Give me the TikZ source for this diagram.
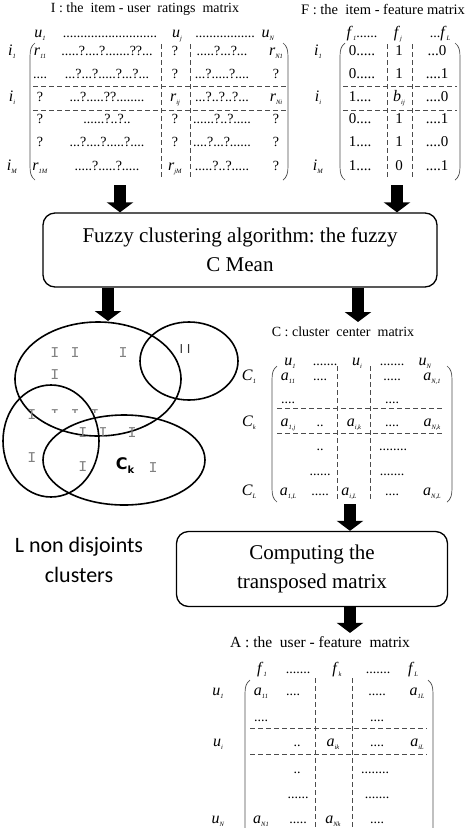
\documentclass[tikz,border=0pt]{standalone}
\usepackage{fontspec}
\setmainfont{Liberation Serif}
\newfontfamily\calfont{Carlito}
\newfontfamily\itemfont{Liberation Mono}
\newfontfamily\barfont{Liberation Sans}
\newfontfamily\cksans{DejaVu Sans}
\usetikzlibrary{positioning}
\usetikzlibrary{calc}
\usetikzlibrary{arrows.meta}
\usetikzlibrary{shapes.geometric}
\frenchspacing

% italic letter with a tiny index
\newcommand{\ms}[2]{{\fontsize{16}{16}\selectfont\textit{#1}}\raisebox{-0.4ex}{\fontsize{6.5}{6.5}\selectfont\textit{#2}}}
% matrix brackets
\newcommand{\matlp}[3]{\draw[paren] ({#1+5},#2) .. controls ({#1+1},{#2+3}) and (#1,{#2+7}) .. (#1,{#2+14}) -- (#1,{#3-14}) .. controls (#1,{#3-7}) and ({#1+1},{#3-3}) .. ({#1+5},#3);}
\newcommand{\matrp}[3]{\draw[paren] ({#1-5},#2) .. controls ({#1-1},{#2+3}) and (#1,{#2+7}) .. (#1,{#2+14}) -- (#1,{#3-14}) .. controls (#1,{#3-7}) and ({#1-1},{#3-3}) .. ({#1-5},#3);}

\begin{document}
\begin{tikzpicture}[x=1pt, y=-1pt,
        box/.style={draw, line width=1.3pt, rounded corners=12pt, align=center, font=\fontsize{21}{29}\selectfont},
        bigarrow/.style={line width=12pt, -{Triangle[width=26pt,length=10pt]}},
        cluster/.style={draw, ellipse, line width=1.6pt, inner sep=0pt},
        title/.style={font=\fontsize{14}{14}\selectfont},
        entry/.style={font=\fontsize{14}{14}\selectfont, inner sep=0pt, text height=10pt, text depth=3pt},
        digit/.style={entry, font=\fontsize{15}{15}\selectfont},
        sep/.style={dashed, dash pattern=on 5pt off 3pt, line width=0.6pt, black!70},
        paren/.style={line width=0.7pt, black!70},
        imark/.style={font=\itemfont\fontsize{15}{15}\selectfont, text=black!50, inner sep=0pt}
    ]
    \useasboundingbox (0,0) rectangle (474,828);

    % item-user ratings matrix
    \node[title] (ttli) at (145,9) {I : the\ \ item - user\ \ ratings\ \ matrix};
    \foreach \x/\y/\t [count=\n] in {
        40/34/{\ms{u}{1}}, 110/34/{...........................}, 177/34/{\ms{u}{j}}, 225/34/{.................}, 268/34/{\ms{u}{N}},
        12/52/{\ms{i}{1}}, 12/98/{\ms{i}{i}}, 12/167/{\ms{i}{M}},
        40/52/{\ms{r}{11}}, 107/52/{.....?....?.......??...}, 175/52/?, 222/52/{.....?...?...}, 276/52/{\ms{r}{N1}},
        40/75/{....}, 107/75/{...?...?.....?...?...}, 175/75/?, 222/75/{...?.....?....}, 276/75/?,
        40/98/?, 107/98/{...?.....??........}, 175/98/{\ms{r}{ij}}, 222/98/{...?..?..?...}, 276/98/{\ms{r}{Ni}},
        40/120/?, 107/120/{......?..?..}, 175/120/?, 222/120/{......?..?.....}, 276/120/?,
        40/143/?, 107/143/{...?....?.....?....}, 175/143/?, 222/143/{....?...?......}, 276/143/?,
        40/167/{\ms{r}{1M}}, 107/167/{.....?.....?.....}, 175/167/{\ms{r}{jM}}, 222/167/{.....?..?.....}, 276/167/?}
        \node[entry] (im\n) at (\x,\y) {\t};
    \matlp{30}{43}{180}
    \matrp{288}{43}{180}
    \draw[sep] (161,44) -- (161,178);
    \draw[sep] (190,44) -- (190,178);
    \draw[sep] (33,86) -- (286,86);
    \draw[sep] (33,110) -- (286,110);

    % item-feature matrix
    \node[title, font=\fontsize{14.5}{15}\selectfont] (ttlf) at (383,9) {F : the\ \ item - feature\ matrix};
    \foreach \x/\y/\t [count=\n] in {
        362/34/{\ms{f}{1}......}, 398/34/{\ms{f}{j}}, 440/34/{...\ms{f}{L}},
        318/52/{\ms{i}{1}}, 318/98/{\ms{i}{i}}, 318/167/{\ms{i}{M}}}
        \node[entry] (fh\n) at (\x,\y) {\t};
    \foreach \x/\y/\t [count=\n] in {
        362/52/{0.....}, 399/52/1, 437/52/{...0},
        362/75/{0.....}, 399/75/1, 437/75/{....1},
        360/98/{1....}, 399/98/{\ms{b}{ij}}, 437/98/{....0},
        360/120/{0....}, 399/120/1, 437/120/{....1},
        360/143/{1....}, 399/143/1, 437/143/{....0},
        360/167/{1....}, 399/167/0, 437/167/{....1}}
        \node[digit] (fm\n) at (\x,\y) {\t};
    \matlp{340}{43}{180}
    \matrp{460}{43}{180}
    \draw[sep] (387,44) -- (387,178);
    \draw[sep] (412,44) -- (412,178);
    \draw[sep] (343,86) -- (457,86);
    \draw[sep] (343,110) -- (457,110);

    % fuzzy c means
    \node[box, minimum width=394pt, minimum height=74pt] (fcm) at (240,250) {Fuzzy clustering algorithm: the fuzzy\\C Mean};
    \coordinate (iout) at (120,185);
    \coordinate (fout) at (397,185);
    \draw[bigarrow] (iout) -- (iout |- fcm.north);
    \draw[bigarrow] (fout) -- (fout |- fcm.north);

    % clusters
    \node[cluster, minimum width=166pt, minimum height=114pt] (cl1) at (98,379) {};
    \node[cluster, minimum width=98pt, minimum height=78pt] (cl2) at (189,361) {};
    \node[cluster, minimum width=96pt, minimum height=112pt] (cl3) at (51,441) {};
    \node[cluster, minimum width=162pt, minimum height=90pt] (cl4) at (124,460) {};
    \foreach \x/\y [count=\n] in {55/353, 75/353, 123/353, 55/375, 32/415, 83/433, 103/433, 132/433, 32/458, 83/467, 153/468}
        \node[imark] (it\n) at (\x,\y) {I};
    \begin{scope}
        \clip (40,400) rectangle (105,412);
        \foreach \x [count=\n] in {55, 75, 95}
            \node[imark] (ic\n) at (\x,415) {I};
    \end{scope}
    \node[imark, font=\barfont\fontsize{13}{13}\selectfont, text=black!80] (ii) at (185,349) {I I};
    \node[font=\cksans\bfseries\fontsize{16}{16}\selectfont, inner sep=0pt] (ck) at (125,466) {C\raisebox{-0.45ex}{\fontsize{10}{10}\selectfont k}};
    \coordinate (clin) at (108,321);
    \draw[bigarrow] (fcm.south -| clin) -- (clin);

    \node[font=\calfont\fontsize{22}{30}\selectfont, align=center] (lbl) at (79,560) {L non disjoints\\clusters};

    % cluster center matrix
    \node[title] (ttlc) at (343,332) {C : cluster\ \ center\ \ matrix};
    \coordinate (cin) at (358,322);
    \draw[bigarrow] (fcm.south -| cin) -- (cin);
    \foreach \x/\y/\t [count=\n] in {
        290/362/{\ms{u}{1}}, 325/362/{.......}, 357/362/{\ms{u}{i}}, 392/362/{.......}, 425/362/{\ms{u}{N}},
        249/377/{\ms{C}{1}}, 249/423/{\ms{C}{k}}, 249/492/{\ms{C}{L}},
        288/377/{\ms{a}{11}}, 320/377/{....}, 392/377/{.....}, 432/377/{\ms{a}{N,1}},
        288/400/{....}, 392/400/{....},
        288/423/{\ms{a}{1,j}}, 320/423/{..}, 354/423/{\ms{a}{i,k}}, 392/423/{....}, 432/423/{\ms{a}{N,k}},
        320/447/{..}, 393/447/{........},
        320/472/{......}, 392/472/{.......},
        288/492/{\ms{a}{1,L}}, 320/492/{.....}, 349/492/{\ms{a}{i,L}}, 392/492/{....}, 432/492/{\ms{a}{N,L}}}
        \node[entry] (cm\n) at (\x,\y) {\t};
    \matlp{272}{366}{502}
    \matrp{452}{366}{502}
    \draw[sep] (337,366) -- (337,500);
    \draw[sep] (370,366) -- (370,500);
    \draw[sep] (277,408) -- (443,408);
    \draw[sep] (277,433) -- (443,433);

    % transposition
    \node[box, minimum width=271pt, minimum height=75pt] (ctr) at (312,569) {Computing the\\transposed matrix};
    \coordinate (cout) at (350,504);
    \draw[bigarrow] (cout) -- (cout |- ctr.north);

    % user-feature matrix
    \node[title, font=\fontsize{15.5}{16}\selectfont] (ttla) at (320,642) {A : the\ \ user - feature\ \ matrix};
    \draw[bigarrow] (ctr.south -| cout) -- (ttla.north -| cout);
    \foreach \x/\y/\t [count=\n] in {
        262/670/{\ms{f}{1}}, 298/670/{.......}, 337/670/{\ms{f}{k}}, 378/670/{.......}, 413/670/{\ms{f}{L}},
        218/692/{\ms{u}{1}}, 218/743/{\ms{u}{i}}, 218/820/{\ms{u}{N}},
        261/692/{\ms{a}{11}}, 293/692/{....}, 377/692/{.....}, 417/692/{\ms{a}{1L}},
        261/718/{....}, 377/718/{....},
        297/743/{..}, 333/743/{\ms{a}{ik}}, 377/743/{....}, 417/743/{\ms{a}{iL}},
        297/770/{..}, 375/770/{........},
        298/795/{......}, 377/795/{.......},
        261/820/{\ms{a}{N1}}, 298/820/{.....}, 333/820/{\ms{a}{Nk}}, 377/820/{....}}
        \node[entry] (am\n) at (\x,\y) {\t};
    \matlp{245}{680}{840}
    \matrp{433}{680}{840}
    \draw[sep] (315,678) -- (315,828);
    \draw[sep] (352,678) -- (352,828);
    \draw[sep] (250,728) -- (427,728);
    \draw[sep] (250,754) -- (427,754);
\end{tikzpicture}
\end{document}
